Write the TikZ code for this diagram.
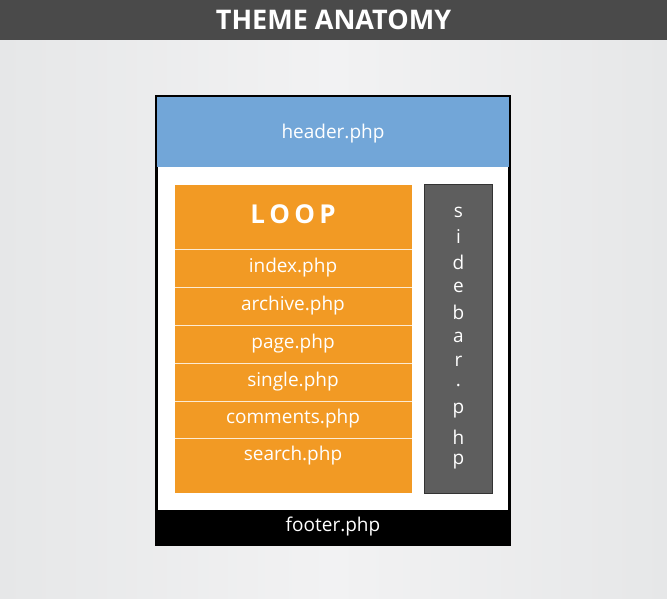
\documentclass[tikz,border=0pt]{standalone}
\usepackage{fontspec}
\setmainfont{Open Sans}
\definecolor{bgtop}{HTML}{E6E7E8}
\definecolor{bgmid}{HTML}{F2F2F3}
\definecolor{barc}{HTML}{4A4A4A}
\definecolor{hdr}{HTML}{72A6D8}
\definecolor{orng}{HTML}{F29A24}
\definecolor{sbar}{HTML}{5E5E5E}
\tikzset{rowtxt/.style={text=white,font=\fontsize{19}{20}\selectfont},
 sep/.style={draw=white!80!orng,line width=0.8pt}}
\begin{document}
\begin{tikzpicture}[x=1pt,y=-1pt]
\useasboundingbox (0,0) rectangle (667,599);
\shade[left color=bgtop,right color=bgtop,middle color=bgmid] (0,0) rectangle (667,599);
\fill[barc] (0,0) rectangle (667,40);
\node (title) at (333.5,20) {\textcolor{white}{\fontsize{27}{28}\selectfont\bfseries THEME ANATOMY}};
\node[draw=black,line width=3pt,fill=white,minimum width=353,minimum height=448,inner sep=0] (frame) at (333,320.5) {};
\fill[hdr] (157,97) rectangle (509,167);
\node[text=white,font=\fontsize{19}{20}\selectfont] (header) at (333,134) {header.php};
\fill[black] (157,510) rectangle (509,545);
\node[text=white,font=\fontsize{19}{20}\selectfont] (footer) at (333,527) {footer.php};
\fill[orng] (175,185) rectangle (412,493);
\node[text=white,font=\fontsize{26}{28}\selectfont\bfseries] (loop) at (293,214) {L\,O\,O\,P};
\foreach \y in {249,287,325,363,401,438} \draw[sep] (175,\y) -- (412,\y);
\foreach \t/\y [count=\i] in {index.php/268,archive.php/306,page.php/344,single.php/382,comments.php/419,search.php/456}
  \node[rowtxt] (r\i) at (293,\y) {\t};
\node[draw=black!80,line width=1pt,fill=sbar,minimum width=68,minimum height=308,inner sep=0] (side) at (458.5,339) {};
\foreach \c/\y [count=\i] in {s/212,i/237,d/262,e/287,b/312,a/337,r/361,./386,p/411,h/437,p/462}
  \node[text=white,font=\fontsize{19}{20}\selectfont,inner sep=0] (s\i) at (458.5,\y) {\c};
\end{tikzpicture}
\end{document}
